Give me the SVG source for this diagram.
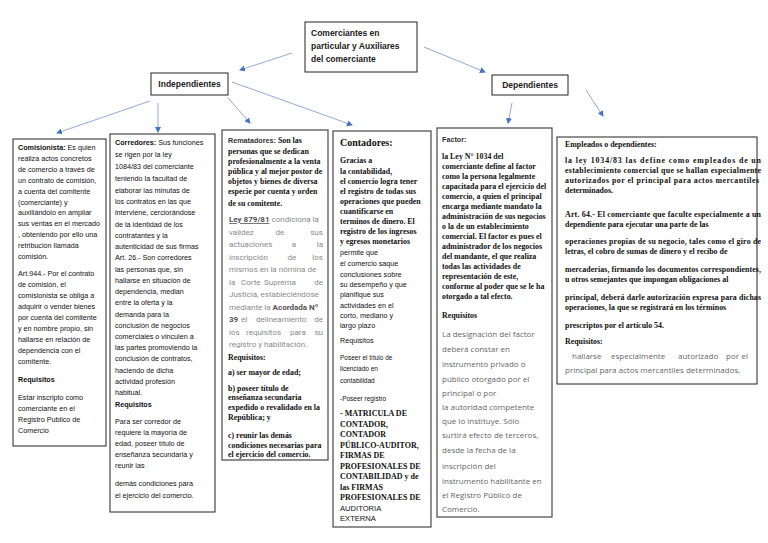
<svg xmlns="http://www.w3.org/2000/svg" width="768" height="543" viewBox="0 0 768 543">
<defs>
<marker id="ah" markerWidth="6" markerHeight="6" refX="5" refY="3" orient="auto" markerUnits="userSpaceOnUse">
<path d="M0,0 L6,3 L0,6 Z" fill="#4472C4"/>
</marker>
<style>
.box{fill:#fff;stroke:#222;stroke-width:1}
.box2{fill:#fff;stroke:#555;stroke-width:1.3}
.c{font-family:"Liberation Sans",Arial,sans-serif;font-size:7.2px;fill:#111}
.b{font-weight:bold}
.t{font-family:"Liberation Sans",Arial,sans-serif;font-size:8.5px;font-weight:bold;fill:#222}
.s{font-family:"Liberation Serif","Times New Roman",serif;font-size:7.9px;font-weight:bold;fill:#111}
.g{font-family:Roboto,"Liberation Sans",sans-serif;font-size:8px;fill:#8a8a8a}
.o{font-family:"Open Sans","Liberation Sans",sans-serif;font-size:8px;fill:#666}
.cn{stroke:#8FAADC;stroke-width:1;fill:none;marker-end:url(#ah)}
</style>
</defs>
<rect width="768" height="543" fill="#fff"/>

<g id="connectors">
<line class="cn" x1="292" y1="53" x2="240" y2="70"/>
<line class="cn" x1="424" y1="47" x2="485" y2="72"/>
<line class="cn" x1="150" y1="101" x2="57" y2="133"/>
<line class="cn" x1="158" y1="103" x2="158" y2="132"/>
<line class="cn" x1="228" y1="98" x2="250" y2="123"/>
<line class="cn" x1="232" y1="82" x2="352" y2="125"/>
<line class="cn" x1="512" y1="103" x2="508" y2="123"/>
<line class="cn" x1="586" y1="90" x2="603" y2="116"/>
</g>

<g id="title">
<rect class="box" x="305" y="22" width="112" height="50"/>
<text class="t" x="311" y="36">Comerciantes en</text>
<text class="t" x="311" y="49">particular y Auxiliares</text>
<text class="t" x="311" y="62">del comerciante</text>
</g>

<g id="independientes">
<rect class="box" x="151" y="73" width="77" height="22"/>
<text class="t" x="189.5" y="87" text-anchor="middle">Independientes</text>
</g>

<g id="dependientes">
<rect class="box" x="492" y="75" width="76" height="20"/>
<text class="t" x="530" y="88" text-anchor="middle">Dependientes</text>
</g>

<g id="comisionista">
<rect class="box" x="13" y="139" width="93" height="307"/>
<text class="c" x="18" y="150"><tspan class="b">Comisionista:</tspan> Es quien</text>
<text class="c" x="18" y="161">realiza actos concretos</text>
<text class="c" x="18" y="172">de comercio a través de</text>
<text class="c" x="18" y="183">un contrato de comisión,</text>
<text class="c" x="18" y="194">a cuenta del comitente</text>
<text class="c" x="18" y="205">(comerciante) y</text>
<text class="c" x="18" y="215">auxiliándolo en ampliar</text>
<text class="c" x="18" y="226">sus ventas en el mercado</text>
<text class="c" x="18" y="237">, obteniendo por ello una</text>
<text class="c" x="18" y="248">retribución llamada</text>
<text class="c" x="18" y="259">comisión.</text>
<text class="c" x="18" y="276">Art.944.- Por el contrato</text>
<text class="c" x="18" y="287">de comisión, el</text>
<text class="c" x="18" y="298">comisionista se obliga a</text>
<text class="c" x="18" y="309">adquirir o vender bienes</text>
<text class="c" x="18" y="320">por cuenta del comitente</text>
<text class="c" x="18" y="331">y en nombre propio, sin</text>
<text class="c" x="18" y="342">hallarse en relación de</text>
<text class="c" x="18" y="353">dependencia con el</text>
<text class="c" x="18" y="364">comitente.</text>
<text class="c b" x="18" y="382">Requisitos</text>
<text class="c" x="18" y="400">Estar inscripto como</text>
<text class="c" x="18" y="411">comerciante en el</text>
<text class="c" x="18" y="422">Registro Publico de</text>
<text class="c" x="18" y="433">Comercio</text>
</g>

<g id="corredores">
<rect class="box" x="110" y="134" width="105" height="378"/>
<text class="c" x="115" y="145"><tspan class="b">Corredores:</tspan> Sus funciones</text>
<text class="c" x="115" y="157">se rigen por la ley</text>
<text class="c" x="115" y="169">1084/83 del comerciante</text>
<text class="c" x="115" y="181">teniendo la facultad de</text>
<text class="c" x="115" y="193">elaborar las minutas de</text>
<text class="c" x="115" y="204">los contratos en las que</text>
<text class="c" x="115" y="215">interviene, cerciorándose</text>
<text class="c" x="115" y="227">de la identidad de los</text>
<text class="c" x="115" y="238">contratantes y la</text>
<text class="c" x="115" y="249">autenticidad de sus firmas</text>
<text class="c" x="115" y="260">Art. 26.- Son corredores</text>
<text class="c" x="115" y="272">las personas que, sin</text>
<text class="c" x="115" y="283">hallarse en situación de</text>
<text class="c" x="115" y="294">dependencia, median</text>
<text class="c" x="115" y="305">entre la oferta y la</text>
<text class="c" x="115" y="317">demanda para la</text>
<text class="c" x="115" y="328">conclusión de negocios</text>
<text class="c" x="115" y="339">comerciales o vinculen a</text>
<text class="c" x="115" y="350">las partes promoviendo la</text>
<text class="c" x="115" y="361">conclusión de contratos,</text>
<text class="c" x="115" y="373">haciendo de dicha</text>
<text class="c" x="115" y="384">actividad profesión</text>
<text class="c" x="115" y="395">habitual.</text>
<text class="c b" x="115" y="407">Requisitos</text>
<text class="c" x="115" y="424">Para ser corredor de</text>
<text class="c" x="115" y="435">requiere la mayoría de</text>
<text class="c" x="115" y="446">edad, poseer título de</text>
<text class="c" x="115" y="457">enseñanza secundaria y</text>
<text class="c" x="115" y="468">reunir las</text>
<text class="c" x="115" y="486">demás condiciones para</text>
<text class="c" x="115" y="498">el ejercicio del comercio.</text>
</g>

<g id="rematadores">
<rect class="box2" x="222" y="130" width="106" height="330"/>
<text class="s" x="228" y="143"><tspan class="c b" style="fill:#333">Rematadores:</tspan> Son las</text>
<text class="s" x="228" y="154">personas que se dedican</text>
<text class="s" x="228" y="164">profesionalmente a la venta</text>
<text class="s" x="228" y="174">pública y al mejor postor de</text>
<text class="s" x="228" y="184">objetos y bienes de diversa</text>
<text class="s" x="228" y="194">especie por cuenta y orden</text>
<text class="s" x="228" y="206">de su comitente.</text>
<text class="g" x="229" y="222"><tspan font-weight="bold" fill="#555" text-decoration="underline">Ley 879/81</tspan> condiciona la</text>
<text class="g"><tspan x="229" y="235">validez</tspan><tspan x="280" y="235" text-anchor="middle">de</tspan><tspan x="323" y="235" text-anchor="end">sus</tspan></text>
<text class="g"><tspan x="229" y="247">actuaciones</tspan><tspan x="294" y="247" text-anchor="middle">a</tspan><tspan x="323" y="247" text-anchor="end">la</tspan></text>
<text class="g"><tspan x="229" y="260">inscripción</tspan><tspan x="292" y="260" text-anchor="middle">de</tspan><tspan x="323" y="260" text-anchor="end">los</tspan></text>
<text class="g" x="229" y="272">mismos en la nómina de</text>
<text class="g"><tspan x="229" y="285">la</tspan><tspan x="241" y="285">Corte</tspan><tspan x="264" y="285">Suprema</tspan><tspan x="323" y="285" text-anchor="end">de</tspan></text>
<text class="g" x="229" y="297">Justicia, estableciéndose</text>
<text class="g" x="229" y="310">mediante la <tspan font-weight="bold" fill="#555">Acordada Nº</tspan></text>
<text class="g"><tspan x="229" y="322" font-weight="bold" fill="#555">39</tspan><tspan x="241" y="322">el</tspan><tspan x="256" y="322">delineamiento</tspan><tspan x="323" y="322" text-anchor="end">de</tspan></text>
<text class="g"><tspan x="229" y="335">los</tspan><tspan x="246" y="335">requisitos</tspan><tspan x="290" y="335">para</tspan><tspan x="323" y="335" text-anchor="end">su</tspan></text>
<text class="g" x="229" y="347">registro y habilitación.</text>
<text class="s" x="228" y="360">Requisitos:</text>
<text class="s" x="228" y="375">a) ser mayor de edad;</text>
<text class="s" x="228" y="391">b) poseer título de</text>
<text class="s" x="228" y="400">enseñanza secundaria</text>
<text class="s" x="228" y="410">expedido o revalidado en la</text>
<text class="s" x="228" y="420">República; y</text>
<text class="s" x="228" y="438">c) reunir las demás</text>
<text class="s" x="228" y="448">condiciones necesarias para</text>
<text class="s" x="228" y="457">el ejercicio del comercio.</text>
</g>

<g id="contadores">
<rect class="box2" x="333" y="131" width="98" height="396"/>
<text class="s" x="340" y="146" style="font-size:10px">Contadores:</text>
<text class="s" x="340" y="163">Gracias a</text>
<text class="s" x="340" y="174">la contabilidad,</text>
<text class="s" x="340" y="184">el comercio logra tener</text>
<text class="s" x="340" y="194">el registro de todas sus</text>
<text class="s" x="340" y="204">operaciones que pueden</text>
<text class="s" x="340" y="214">cuantificarse en</text>
<text class="s" x="340" y="224">terminos de dinero. El</text>
<text class="s" x="340" y="234">registro de los ingresos</text>
<text class="s" x="340" y="244">y egresos monetarios</text>
<text class="c" x="340" y="255">permite que</text>
<text class="c" x="340" y="266">el comercio saque</text>
<text class="c" x="340" y="277">conclusiones sobre</text>
<text class="c" x="340" y="287">su desempeño y que</text>
<text class="c" x="340" y="297">planifique sus</text>
<text class="c" x="340" y="308">actividades en el</text>
<text class="c" x="340" y="318">corto, mediano y</text>
<text class="c" x="340" y="328">largo plazo</text>
<text class="c" x="340" y="343">Requisitos</text>
<text class="c" x="340" y="360" style="font-size:6.5px">Poseer el título de</text>
<text class="c" x="340" y="371" style="font-size:6.5px">licenciado en</text>
<text class="c" x="340" y="383" style="font-size:6.5px">contabilidad</text>
<text class="c" x="340" y="401" style="font-size:6.5px">-Poseer registro</text>
<text class="s" x="340" y="416" style="font-size:8px">- MATRICULA DE</text>
<text class="s" x="340" y="427" style="font-size:8px">CONTADOR,</text>
<text class="s" x="340" y="437" style="font-size:8px">CONTADOR</text>
<text class="s" x="340" y="448" style="font-size:8px">PÚBLICO-AUDITOR,</text>
<text class="s" x="340" y="458" style="font-size:8px">FIRMAS DE</text>
<text class="s" x="340" y="469" style="font-size:8px">PROFESIONALES DE</text>
<text class="s" x="340" y="479" style="font-size:8px">CONTABILIDAD y de</text>
<text class="s" x="340" y="490" style="font-size:8px">las FIRMAS</text>
<text class="s" x="340" y="500" style="font-size:8px">PROFESIONALES DE</text>
<text class="c" x="340" y="511" style="font-size:7.6px">AUDITORIA</text>
<text class="c" x="340" y="521" style="font-size:7.6px">EXTERNA</text>
</g>

<g id="factor">
<rect class="box2" x="437" y="128" width="115" height="389"/>
<text class="c b" x="442" y="142" style="fill:#333">Factor:</text>
<text class="s" x="442" y="159">la Ley N° 1034 del</text>
<text class="s" x="442" y="169">comerciante define al factor</text>
<text class="s" x="442" y="179">como la persona legalmente</text>
<text class="s" x="442" y="189">capacitada para el ejercicio del</text>
<text class="s" x="442" y="199">comercio, a quien el principal</text>
<text class="s" x="442" y="209">encarga mediante mandato la</text>
<text class="s" x="442" y="219">administración de sus negocios</text>
<text class="s" x="442" y="229">o la de un establecimiento</text>
<text class="s" x="442" y="239">comercial. El factor es pues el</text>
<text class="s" x="442" y="249">administrador de los negocios</text>
<text class="s" x="442" y="259">del mandante, el que realiza</text>
<text class="s" x="442" y="269">todas las actividades de</text>
<text class="s" x="442" y="279">representación de este,</text>
<text class="s" x="442" y="289">conforme al poder que se le ha</text>
<text class="s" x="442" y="299">otorgado a tal efecto.</text>
<text class="s" x="442" y="318">Requisitos</text>
<text class="o" x="442" y="337">La designación del factor</text>
<text class="o" x="442" y="352">deberá constar en</text>
<text class="o" x="442" y="367">instrumento privado o</text>
<text class="o" x="442" y="382">público otorgado por el</text>
<text class="o" x="442" y="396">principal o por</text>
<text class="o" x="442" y="410">la autoridad competente</text>
<text class="o" x="442" y="424">que lo instituye. Sólo</text>
<text class="o" x="442" y="438">surtirá efecto de terceros,</text>
<text class="o" x="442" y="453">desde la fecha de la</text>
<text class="o" x="442" y="469">inscripción del</text>
<text class="o" x="442" y="484">instrumento habilitante en</text>
<text class="o" x="442" y="498">el Registro Público de</text>
<text class="o" x="442" y="512">Comercio.</text>
</g>

<g id="empleados">
<rect class="box" x="557" y="137" width="200" height="247"/>
<text class="s" x="565" y="147">Empleados o dependientes:</text>
<text class="s" x="565" y="163" textLength="196" lengthAdjust="spacing">la ley 1034/83 las define como empleados de un</text>
<text class="s" x="565" y="173" textLength="196" lengthAdjust="spacing">establecimiento comercial que se hallan especialmente</text>
<text class="s" x="565" y="183" textLength="194" lengthAdjust="spacing">autorizados por el principal para actos mercantiles</text>
<text class="s" x="565" y="193">determinados.</text>
<text class="s" x="565" y="217" textLength="196" lengthAdjust="spacing">Art. 64.- El comerciante que faculte especialmente a un</text>
<text class="s" x="565" y="227">dependiente para ejecutar una parte de las</text>
<text class="s" x="565" y="244" textLength="196" lengthAdjust="spacing">operaciones propias de su negocio, tales como el giro de</text>
<text class="s" x="565" y="254">letras, el cobro de sumas de dinero y el recibo de</text>
<text class="s" x="565" y="272" textLength="196" lengthAdjust="spacing">mercaderías, firmando los documentos correspondientes,</text>
<text class="s" x="565" y="282">u otros semejantes que impongan obligaciones al</text>
<text class="s" x="565" y="300" textLength="196" lengthAdjust="spacing">principal, deberá darle autorización expresa para dichas</text>
<text class="s" x="565" y="310">operaciones, la que se registrará en los términos</text>
<text class="s" x="565" y="328">prescriptos por el artículo 54.</text>
<text class="s" x="565" y="344">Requisitos:</text>
<text class="o"><tspan x="572" y="359">hallarse</tspan><tspan x="611" y="359">especialmente</tspan><tspan x="678" y="359">autorizado</tspan><tspan x="726" y="359">por</tspan><tspan x="748" y="359" text-anchor="end">el</tspan></text>
<text class="o" x="565" y="373">principal para actos mercantiles determinados.</text>
</g>
</svg>
